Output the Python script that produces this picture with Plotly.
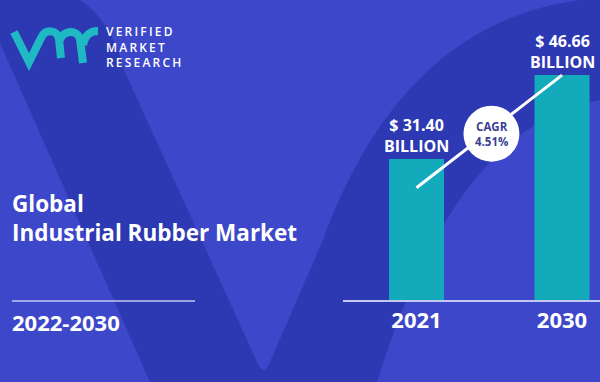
import plotly.graph_objects as go

# ---------------- data ----------------
years = ["2021", "2030"]
values = [31.40, 46.66]
value_unit = "BILLION"
cagr_label = "CAGR"
cagr_value = 4.51
title_lines = ["Global", "Industrial Rubber Market"]
period_label = "2022-2030"
brand_lines = ["VERIFIED", "MARKET", "RESEARCH"]

# ---------------- style ----------------
W, H = 600, 382
BG_LIGHT = "#3d47c9"
BG_DARK = "#2d38b3"
TEAL = "#13abbb"
LOGO_TEAL = "#1fb9c4"
WHITE = "#ffffff"
CAGR_TEXT = "#3a3f93"
FONT = "Open Sans"
LINE_START_FRAC = 0.834  # where the growth line starts on the first bar (fraction of its value)


def P(x, y):
    """pixel -> paper coordinates string"""
    return f"{x / W:.5f},{1 - y / H:.5f}"


def lpath(cmds, close=False):
    out = []
    for c in cmds:
        op, pts = c[0], c[1:]
        out.append(op + " " + " ".join(P(*p) for p in pts))
    return " ".join(out) + (" Z" if close else "")


# background big "V"
dark_v = lpath([
    ("M", (0, 0)),
    ("L", (80, 0)),
    ("Q", (112, 22), (124, 70)),
    ("L", (257, 362)),
    ("Q", (263, 378), (270, 362)),
    ("L", (323, 240)),
    ("C", (360, 140), (430, 20), (580, 0)),
    ("L", (600, 0)),
    ("L", (600, 100)),
    ("C", (520, 115), (440, 180), (377, 382)),
    ("L", (150, 382)),
    ("L", (0, 43)),
], close=True)

logo_path = lpath([
    ("M", (14, 32)), ("L", (29, 62)), ("L", (41, 38)),
    ("C", (45, 29), (57, 29), (59, 39)), ("L", (61, 58)),
    ("M", (60, 40)), ("C", (63, 30), (77, 29), (80, 39)), ("L", (83, 63)),
    ("M", (83, 45)), ("C", (85, 35), (90, 31), (98, 31)),
])

fig = go.Figure()

fig.add_trace(go.Bar(
    x=years, y=values,
    marker=dict(color=TEAL, line=dict(width=0)),
    hoverinfo="skip",
))

# y scale: baseline at pixel 300
y0 = 5.8
y1 = 60.3
x_range = [-0.505, 1.261]

shapes = [
    dict(type="path", path=dark_v, xref="paper", yref="paper",
         fillcolor=BG_DARK, line=dict(width=0), layer="below"),
    dict(type="path", path=logo_path, xref="paper", yref="paper",
         line=dict(color=LOGO_TEAL, width=8), layer="above"),
    # separator line under the title
    dict(type="line", xref="paper", yref="paper",
         x0=12 / W, x1=195 / W, y0=1 - 301 / H, y1=1 - 301 / H,
         line=dict(color="#c3c9f3", width=1.5)),
]

# growth line between bars
ly0 = values[0] * LINE_START_FRAC
ly1 = values[1]
shapes.append(dict(type="line", xref="x", yref="y", x0=0, x1=1.0, y0=ly0, y1=ly1,
                   line=dict(color=WHITE, width=3), layer="above"))
cx, cy = 0.515, ly0 + 0.515 * (ly1 - ly0)
CIRCLE_DROP = 4  # px the badge sits below the line
shapes.append(dict(type="circle", xref="x", yref="y", xsizemode="pixel", ysizemode="pixel",
                   xanchor=cx, yanchor=cy, x0=-28, x1=28,
                   y0=-28 - CIRCLE_DROP, y1=28 - CIRCLE_DROP,
                   fillcolor=WHITE, line=dict(width=0), layer="above"))

annotations = []
# bar value labels (x given as category index)
for i, v in enumerate(values):
    annotations.append(dict(
        x=i, y=v, xref="x", yref="y", yanchor="bottom", xanchor="center",
        yshift=0, showarrow=False,
        text=f"$ {v:.2f}<br>{value_unit}",
        font=dict(family=FONT, size=16, color=WHITE, weight="bold"),
    ))
annotations.append(dict(
    x=cx, y=cy, xref="x", yref="y", showarrow=False, yshift=-CIRCLE_DROP,
    text=f"{cagr_label}<br>{cagr_value:.2f}%",
    font=dict(family=FONT, size=11.5, color=CAGR_TEXT, weight="bold"),
))
# title
for txt, yc in zip(title_lines, [203, 233]):
    annotations.append(dict(
        x=10 / W, y=1 - yc / H, xref="paper", yref="paper",
        xanchor="left", yanchor="middle", showarrow=False, text=txt,
        font=dict(family=FONT, size=22.5, color=WHITE, weight="bold"),
    ))
annotations.append(dict(
    x=10 / W, y=1 - 322 / H, xref="paper", yref="paper",
    xanchor="left", yanchor="middle", showarrow=False, text=period_label,
    font=dict(family=FONT, size=22, color=WHITE, weight="bold"),
))
# brand text (one block, three lines)
annotations.append(dict(
    x=104 / W, y=1 - 47.5 / H, xref="paper", yref="paper",
    xanchor="left", yanchor="middle", align="left", showarrow=False,
    text="<br>".join(f"<span style='letter-spacing:2.2px'>{t}</span>" for t in brand_lines),
    font=dict(family=FONT, size=12, color=WHITE, weight=600),
))

fig.update_layout(
    width=W, height=H, autosize=False,
    margin=dict(l=0, r=0, t=0, b=0),
    paper_bgcolor=BG_LIGHT, plot_bgcolor="rgba(0,0,0,0)",
    showlegend=False, bargap=0.622,
    shapes=shapes, annotations=annotations,
    xaxis=dict(domain=[343 / W, 1], range=x_range, type="category",
               showgrid=False, zeroline=False,
               showline=True, linecolor="#c3c9f3", linewidth=2,
               ticks="", ticklen=0,
               tickfont=dict(family=FONT, size=22, color=WHITE, weight="bold")),
    yaxis=dict(domain=[1 - 300 / H, 1], range=[y0, y1], visible=False,
               showgrid=False, zeroline=False),
)

fig.write_html("out.html")
